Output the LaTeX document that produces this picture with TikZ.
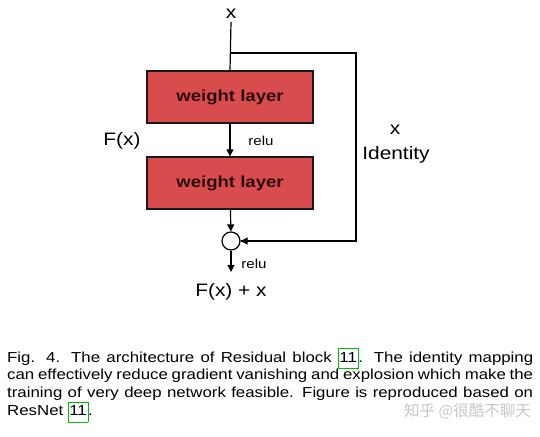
\documentclass[tikz,border=0pt]{standalone}
\usepackage{fontspec}
\setmainfont{Liberation Sans}[FakeStretch=1.16]
\newfontfamily\cjk{Noto Sans CJK SC}
\usetikzlibrary{arrows.meta}
\definecolor{boxred}{HTML}{D94C4E}
\definecolor{boxtext}{HTML}{2A0A0C}
\tikzset{
  wlayer/.style={draw=black!90, line width=1.3pt, fill=boxred, minimum width=166pt, minimum height=52pt, inner sep=0pt, font=\fontsize{16}{19}\selectfont\bfseries, text=boxtext},
  conn/.style={line width=1.2pt, -{Triangle[length=7pt,width=7pt]}},
  plain/.style={line width=1.2pt},
  lbl/.style={font=\fontsize{18}{21}\selectfont, inner sep=0pt},
  small/.style={font=\fontsize{13}{15}\selectfont, inner sep=0pt},
}
\newcommand{\refbox}[1]{\setlength{\fboxsep}{1pt}\fcolorbox{green!75!black}{white}{\strut #1}}
\newcommand{\capline}[1]{\makebox[526pt][s]{#1}}
\begin{document}
\begin{tikzpicture}[x=1pt,y=-1pt]
\useasboundingbox (0,0) rectangle (540,436);
\node[lbl] (xin) at (231,14) {x};
\node[wlayer] (w1) at (230,97) {weight layer};
\node[wlayer] (w2) at (230,183) {weight layer};
\node[draw, line width=1.2pt, circle, minimum size=18pt, inner sep=0pt] (sum) at (231,241) {};
\coordinate (split) at (231,53);
\coordinate (rt) at (356,53);
\coordinate (rb) at (356,241);
\coordinate (out) at (231,272);
\draw[plain] (xin.south) ++(0,3) -- (w1.north);
\draw[plain] (split) -- (rt) -- (rb) -- (sum.east);
\draw[conn] (rb) -- (sum.east);
\draw[conn] (w1) -- (w2);
\draw[conn] (w2) -- (sum);
\draw[conn] (sum) -- (out);
\node[small] (r1) at (261,141) {relu};
\node[small] (r2) at (254,264) {relu};
\node[lbl] (fx) at (122,141) {F(x)};
\node[lbl] (idx) at (395,130) {x};
\node[lbl] (ident) at (396,155) {Identity};
\node[lbl] (res) at (231,292) {F(x) + x};
\node[anchor=north west, inner sep=0pt, align=left, font=\fontsize{14.5}{17.8}\selectfont] (cap) at (7,348)
 {\capline{Fig. 4. The architecture of Residual block \refbox{11}. The identity mapping}\\
  \capline{can effectively reduce gradient vanishing and explosion which make the}\\
  \capline{training of very deep network feasible. Figure is reproduced based on}\\
  ResNet \refbox{11}.};
\node[anchor=east, inner sep=0pt, text=black!22, font=\cjk\fontsize{15.5}{17}\selectfont] (wm) at (531,411) {知乎 @很酷不聊天};
\end{tikzpicture}
\end{document}
